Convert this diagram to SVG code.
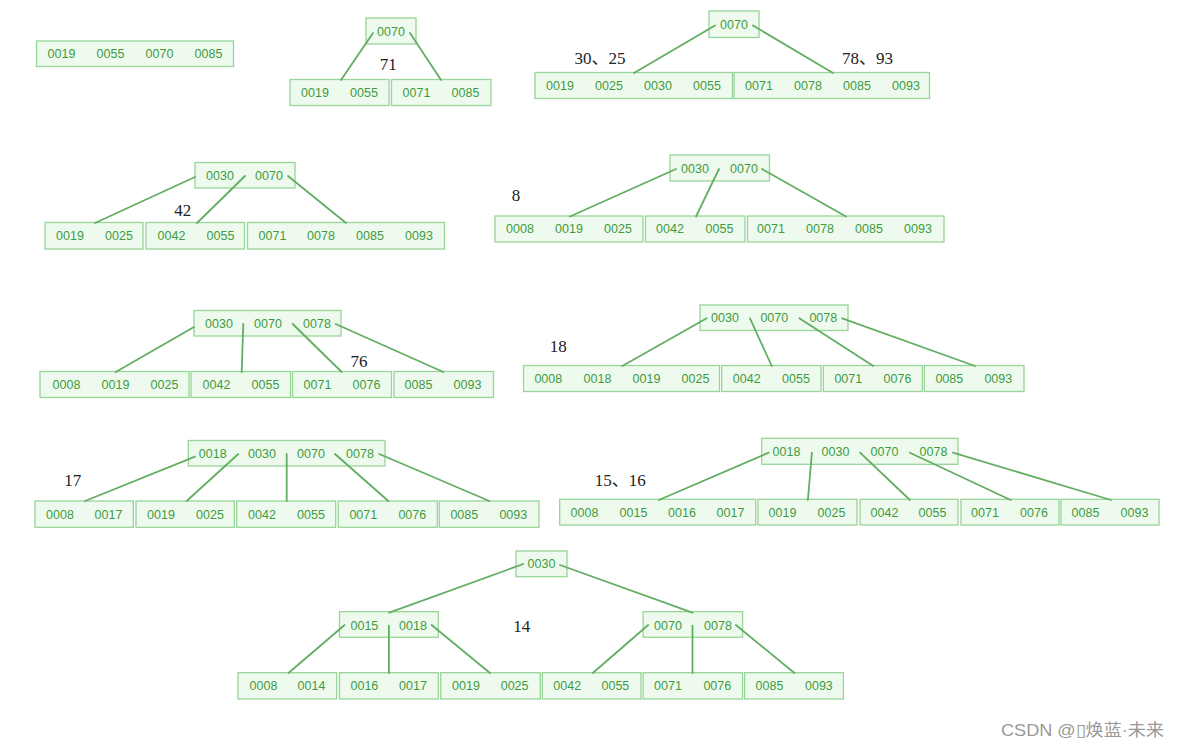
<svg xmlns="http://www.w3.org/2000/svg" width="1179" height="749" viewBox="0 0 1179 749">
<style>
.k{fill:#eefaee;stroke:#98d598;stroke-width:1.3}
.t{font-family:"Liberation Sans","Noto Sans",sans-serif;font-size:12.5px;fill:#3f9a3f;text-anchor:middle}
.e line{stroke:#62ae62;stroke-width:1.8;stroke-linecap:round}
.l{font-family:"Liberation Serif","Noto Sans CJK SC",serif;font-size:17px;fill:#222;text-anchor:middle}
.w{font-family:"Liberation Sans","Noto Sans CJK SC",sans-serif;font-size:16.5px;fill:#999}
</style>
<rect width="1179" height="749" fill="#fff"/>

<!-- Tree 1 -->
<g id="t1-n1"><rect class="k" x="36.5" y="41" width="197" height="25.5"/><text class="t" y="58"><tspan x="61.5">0019</tspan><tspan x="110.5">0055</tspan><tspan x="159.5">0070</tspan><tspan x="208.5">0085</tspan></text></g>

<!-- Tree 2 -->
<g id="t2-root"><rect class="k" x="366" y="18" width="50" height="26"/><text class="t" x="391" y="36">0070</text></g>
<g id="t2-l1"><rect class="k" x="290" y="79.5" width="99" height="26"/><text class="t" y="97"><tspan x="315">0019</tspan><tspan x="364">0055</tspan></text></g>
<g id="t2-l2"><rect class="k" x="391.5" y="79.5" width="99.5" height="26"/><text class="t" y="97"><tspan x="416.5">0071</tspan><tspan x="465.5">0085</tspan></text></g>

<!-- Tree 3 -->
<g id="t3-root"><rect class="k" x="709" y="11" width="50" height="26.5"/><text class="t" x="734" y="29">0070</text></g>
<g id="t3-l1"><rect class="k" x="535" y="72.5" width="197.5" height="26"/><text class="t" y="90"><tspan x="560">0019</tspan><tspan x="609">0025</tspan><tspan x="658">0030</tspan><tspan x="707">0055</tspan></text></g>
<g id="t3-l2"><rect class="k" x="734" y="72.5" width="195.5" height="26"/><text class="t" y="90"><tspan x="759">0071</tspan><tspan x="808">0078</tspan><tspan x="857">0085</tspan><tspan x="906">0093</tspan></text></g>

<!-- Tree 4 -->
<g id="t4-root"><rect class="k" x="195" y="162.5" width="100" height="25.5"/><text class="t" y="179.5"><tspan x="220">0030</tspan><tspan x="269">0070</tspan></text></g>
<g id="t4-l1"><rect class="k" x="45" y="222.5" width="98" height="26.5"/><text class="t" y="240"><tspan x="70">0019</tspan><tspan x="119">0025</tspan></text></g>
<g id="t4-l2"><rect class="k" x="146" y="222.5" width="98.5" height="26.5"/><text class="t" y="240"><tspan x="171.5">0042</tspan><tspan x="220.5">0055</tspan></text></g>
<g id="t4-l3"><rect class="k" x="247.5" y="222.5" width="197" height="26.5"/><text class="t" y="240"><tspan x="272.5">0071</tspan><tspan x="321">0078</tspan><tspan x="370">0085</tspan><tspan x="419">0093</tspan></text></g>

<!-- Tree 5 -->
<g id="t5-root"><rect class="k" x="670" y="155" width="99.5" height="26"/><text class="t" y="172.5"><tspan x="695">0030</tspan><tspan x="744">0070</tspan></text></g>
<g id="t5-l1"><rect class="k" x="495" y="216" width="148" height="26"/><text class="t" y="233"><tspan x="520">0008</tspan><tspan x="569">0019</tspan><tspan x="618">0025</tspan></text></g>
<g id="t5-l2"><rect class="k" x="645.5" y="216" width="99.5" height="26"/><text class="t" y="233"><tspan x="670">0042</tspan><tspan x="719.5">0055</tspan></text></g>
<g id="t5-l3"><rect class="k" x="747.5" y="216" width="196.5" height="26"/><text class="t" y="233"><tspan x="771">0071</tspan><tspan x="820">0078</tspan><tspan x="869">0085</tspan><tspan x="918">0093</tspan></text></g>

<!-- Tree 6 -->
<g id="t6-root"><rect class="k" x="194" y="310.5" width="147" height="25.5"/><text class="t" y="328"><tspan x="219">0030</tspan><tspan x="268">0070</tspan><tspan x="317">0078</tspan></text></g>
<g id="t6-l1"><rect class="k" x="40" y="371.5" width="149" height="26"/><text class="t" y="389"><tspan x="66.5">0008</tspan><tspan x="115.5">0019</tspan><tspan x="164.5">0025</tspan></text></g>
<g id="t6-l2"><rect class="k" x="191" y="371.5" width="99.5" height="26"/><text class="t" y="389"><tspan x="216.5">0042</tspan><tspan x="265.5">0055</tspan></text></g>
<g id="t6-l3"><rect class="k" x="292.5" y="371.5" width="99" height="26"/><text class="t" y="389"><tspan x="317.5">0071</tspan><tspan x="366.5">0076</tspan></text></g>
<g id="t6-l4"><rect class="k" x="394" y="371.5" width="99.5" height="26"/><text class="t" y="389"><tspan x="418.5">0085</tspan><tspan x="467.5">0093</tspan></text></g>

<!-- Tree 7 -->
<g id="t7-root"><rect class="k" x="700" y="305" width="148" height="25.5"/><text class="t" y="322"><tspan x="725">0030</tspan><tspan x="774.3">0070</tspan><tspan x="823.3">0078</tspan></text></g>
<g id="t7-l1"><rect class="k" x="523.5" y="365.5" width="196" height="26"/><text class="t" y="383"><tspan x="548.3">0008</tspan><tspan x="597.5">0018</tspan><tspan x="646.5">0019</tspan><tspan x="695.5">0025</tspan></text></g>
<g id="t7-l2"><rect class="k" x="721.7" y="365.5" width="99.3" height="26"/><text class="t" y="383"><tspan x="746.7">0042</tspan><tspan x="796">0055</tspan></text></g>
<g id="t7-l3"><rect class="k" x="823.3" y="365.5" width="99" height="26"/><text class="t" y="383"><tspan x="848.3">0071</tspan><tspan x="897.5">0076</tspan></text></g>
<g id="t7-l4"><rect class="k" x="924.3" y="365.5" width="99.7" height="26"/><text class="t" y="383"><tspan x="949.3">0085</tspan><tspan x="998.3">0093</tspan></text></g>

<!-- Tree 8 -->
<g id="t8-root"><rect class="k" x="188.3" y="440.5" width="196.7" height="25.5"/><text class="t" y="458"><tspan x="212.7">0018</tspan><tspan x="262">0030</tspan><tspan x="311">0070</tspan><tspan x="360">0078</tspan></text></g>
<g id="t8-l1"><rect class="k" x="35" y="501" width="98.3" height="26.3"/><text class="t" y="518.5"><tspan x="60">0008</tspan><tspan x="108.5">0017</tspan></text></g>
<g id="t8-l2"><rect class="k" x="136" y="501" width="98.3" height="26.3"/><text class="t" y="518.5"><tspan x="161">0019</tspan><tspan x="210">0025</tspan></text></g>
<g id="t8-l3"><rect class="k" x="236.7" y="501" width="99" height="26.3"/><text class="t" y="518.5"><tspan x="262">0042</tspan><tspan x="311">0055</tspan></text></g>
<g id="t8-l4"><rect class="k" x="338.3" y="501" width="99" height="26.3"/><text class="t" y="518.5"><tspan x="363.3">0071</tspan><tspan x="412.3">0076</tspan></text></g>
<g id="t8-l5"><rect class="k" x="439.3" y="501" width="99.7" height="26.3"/><text class="t" y="518.5"><tspan x="464.3">0085</tspan><tspan x="513.3">0093</tspan></text></g>

<!-- Tree 9 -->
<g id="t9-root"><rect class="k" x="761.7" y="438.3" width="196.3" height="26"/><text class="t" y="455.5"><tspan x="786.5">0018</tspan><tspan x="835.5">0030</tspan><tspan x="884.5">0070</tspan><tspan x="933.5">0078</tspan></text></g>
<g id="t9-l1"><rect class="k" x="559.7" y="499.3" width="196" height="25.7"/><text class="t" y="516.5"><tspan x="584.5">0008</tspan><tspan x="633.5">0015</tspan><tspan x="682">0016</tspan><tspan x="730.5">0017</tspan></text></g>
<g id="t9-l2"><rect class="k" x="758" y="499.3" width="99" height="25.7"/><text class="t" y="516.5"><tspan x="782.5">0019</tspan><tspan x="831.5">0025</tspan></text></g>
<g id="t9-l3"><rect class="k" x="860" y="499.3" width="98" height="25.7"/><text class="t" y="516.5"><tspan x="884.5">0042</tspan><tspan x="932.5">0055</tspan></text></g>
<g id="t9-l4"><rect class="k" x="961" y="499.3" width="98" height="25.7"/><text class="t" y="516.5"><tspan x="985">0071</tspan><tspan x="1034">0076</tspan></text></g>
<g id="t9-l5"><rect class="k" x="1061" y="499.3" width="98" height="25.7"/><text class="t" y="516.5"><tspan x="1085.5">0085</tspan><tspan x="1134.5">0093</tspan></text></g>

<!-- Tree 10 -->
<g id="t10-root"><rect class="k" x="516" y="551" width="51" height="25.7"/><text class="t" x="541.5" y="568">0030</text></g>
<g id="t10-m1"><rect class="k" x="339.5" y="611.7" width="98.8" height="25.6"/><text class="t" y="629.5"><tspan x="364.4">0015</tspan><tspan x="413">0018</tspan></text></g>
<g id="t10-m2"><rect class="k" x="643.1" y="611.7" width="99.5" height="25.6"/><text class="t" y="629.5"><tspan x="668">0070</tspan><tspan x="718">0078</tspan></text></g>
<g id="t10-l1"><rect class="k" x="238" y="672.7" width="98.7" height="26.3"/><text class="t" y="690"><tspan x="263.5">0008</tspan><tspan x="311.5">0014</tspan></text></g>
<g id="t10-l2"><rect class="k" x="339.5" y="672.7" width="98.8" height="26.3"/><text class="t" y="690"><tspan x="364.4">0016</tspan><tspan x="413">0017</tspan></text></g>
<g id="t10-l3"><rect class="k" x="440.7" y="672.7" width="99.6" height="26.3"/><text class="t" y="690"><tspan x="466">0019</tspan><tspan x="514.6">0025</tspan></text></g>
<g id="t10-l4"><rect class="k" x="542.3" y="672.7" width="98.7" height="26.3"/><text class="t" y="690"><tspan x="567.2">0042</tspan><tspan x="615.4">0055</tspan></text></g>
<g id="t10-l5"><rect class="k" x="643.1" y="672.7" width="99.5" height="26.3"/><text class="t" y="690"><tspan x="668">0071</tspan><tspan x="717.3">0076</tspan></text></g>
<g id="t10-l6"><rect class="k" x="744.6" y="672.7" width="98.8" height="26.3"/><text class="t" y="690"><tspan x="769.5">0085</tspan><tspan x="818.9">0093</tspan></text></g>

<g id="connectors" class="e">
<line x1="373" y1="33" x2="341" y2="80"/>
<line x1="410" y1="33" x2="441" y2="80"/>
<line x1="715" y1="25.5" x2="634" y2="73"/>
<line x1="753" y1="25.5" x2="833" y2="73"/>
<line x1="195" y1="177" x2="95" y2="223"/>
<line x1="245" y1="176" x2="197" y2="223"/>
<line x1="288" y1="176" x2="346" y2="223"/>
<line x1="676" y1="169" x2="570" y2="216.5"/>
<line x1="719" y1="169" x2="696" y2="216.5"/>
<line x1="762" y1="169" x2="846" y2="216.5"/>
<line x1="194" y1="327" x2="115.7" y2="372"/>
<line x1="243.3" y1="324" x2="241.7" y2="372"/>
<line x1="292.7" y1="324" x2="341.7" y2="372"/>
<line x1="335.7" y1="324" x2="443.3" y2="372"/>
<line x1="706.7" y1="318.3" x2="622.3" y2="366"/>
<line x1="750" y1="318.3" x2="771.7" y2="366"/>
<line x1="799.3" y1="318.3" x2="873.3" y2="366"/>
<line x1="842.3" y1="318.3" x2="975" y2="366"/>
<line x1="195" y1="456.7" x2="85" y2="501"/>
<line x1="238.3" y1="454" x2="186.7" y2="501"/>
<line x1="286.7" y1="454" x2="286.7" y2="501"/>
<line x1="335" y1="454" x2="388.3" y2="501"/>
<line x1="379.3" y1="454" x2="489.3" y2="501"/>
<line x1="768.7" y1="452.7" x2="658.9" y2="500"/>
<line x1="811.9" y1="452.7" x2="807.9" y2="500"/>
<line x1="860.1" y1="452.7" x2="909.9" y2="500"/>
<line x1="909.9" y1="452.7" x2="1010.7" y2="500"/>
<line x1="953" y1="452.7" x2="1111" y2="500"/>
<line x1="523.3" y1="564" x2="389.3" y2="612.7"/>
<line x1="560" y1="565" x2="692.5" y2="612.7"/>
<line x1="344.6" y1="625" x2="288.5" y2="673"/>
<line x1="388.9" y1="625.7" x2="388.9" y2="673"/>
<line x1="431.6" y1="625" x2="490" y2="673"/>
<line x1="648.2" y1="625" x2="592.8" y2="673"/>
<line x1="692.5" y1="625.7" x2="692.5" y2="673"/>
<line x1="735.9" y1="625" x2="794.4" y2="673"/>
</g>

<g id="labels">
<text class="l" x="388.3" y="69.5">71</text>
<text class="l" x="600" y="63.5">30、25</text>
<text class="l" x="867.5" y="63.5">78、93</text>
<text class="l" x="182.7" y="215.5">42</text>
<text class="l" x="516" y="200.5">8</text>
<text class="l" x="359" y="367">76</text>
<text class="l" x="558.3" y="352">18</text>
<text class="l" x="72.7" y="485.5">17</text>
<text class="l" x="620.3" y="486">15、16</text>
<text class="l" x="521.7" y="632">14</text>
</g>
<text class="w" x="1001" y="736" textLength="163" lengthAdjust="spacingAndGlyphs">CSDN @▯焕蓝·未来</text>
</svg>
